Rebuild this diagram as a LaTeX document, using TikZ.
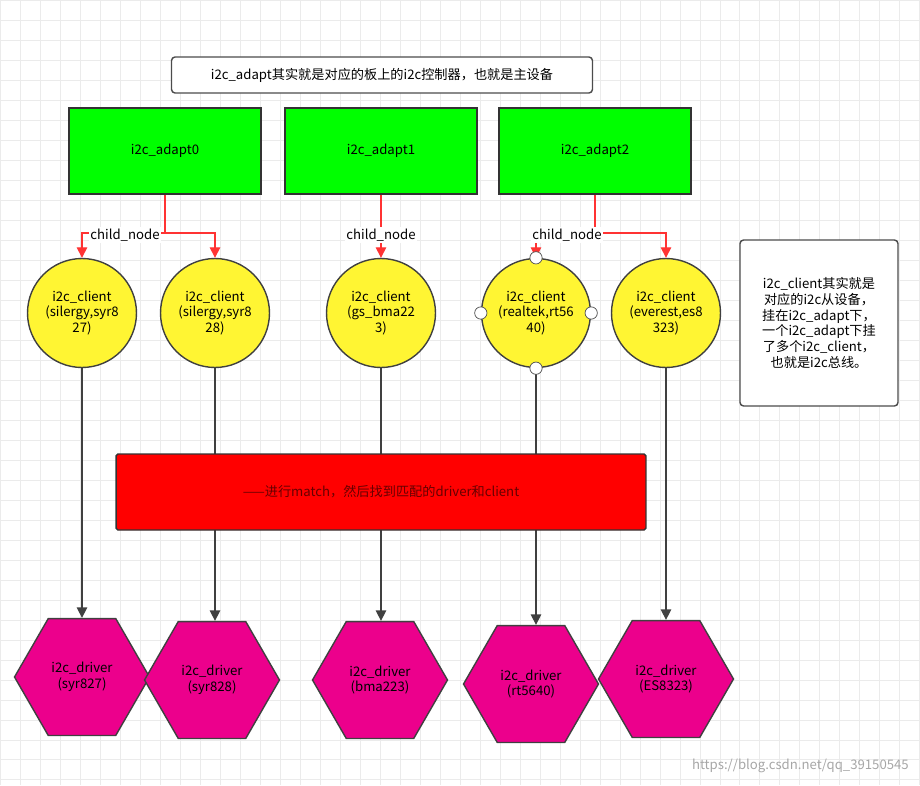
\documentclass[tikz,border=0pt]{standalone}
\usepackage{fontspec}
\setmainfont{Noto Sans CJK SC}
\usetikzlibrary{shapes.geometric,arrows.meta}
\begin{document}
\begin{tikzpicture}[x=0.02cm,y=-0.02cm,font=\fontsize{7.5}{9}\selectfont]
\tikzstyle{adapt}=[draw=black!80,thick,fill=green,minimum width=3.84cm,minimum height=1.72cm]
\tikzstyle{client}=[circle,draw=black!75,thick,fill=yellow!80!white,minimum size=2.18cm,inner sep=0pt,align=center]
\tikzstyle{driver}=[regular polygon,regular polygon sides=6,draw=black!75,thick,fill=magenta,minimum size=2.7cm,inner sep=0pt,align=center]
\tikzstyle{note}=[draw=black!70,thick,rounded corners=2pt,fill=white,align=center]
\tikzstyle{child}=[draw=red!80,thick,-{Triangle[length=6pt,width=6pt]}]
\tikzstyle{link}=[draw=black!75,thick,-{Triangle[length=6pt,width=6pt]}]
\tikzstyle{handle}=[circle,draw=black!70,fill=white,minimum size=7pt,inner sep=0pt]
\useasboundingbox (0,0) rectangle (920,785);
\draw[black!8] (0,0) grid[step=0.4cm] (920,785);
\node[note,minimum width=8.42cm,minimum height=0.72cm] (top) at (382,75) {i2c\_adapt其实就是对应的板上的i2c控制器，也就是主设备};
\foreach \name/\x in {0/165,1/381,2/595}
	\node[adapt] (a\name) at (\x,151) {i2c\_adapt\name};
\foreach \name/\x/\txt in {
	c1/82/{i2c\_client\\(silergy,syr8\\27)},
	c2/215/{i2c\_client\\(silergy,syr8\\28)},
	c3/381/{i2c\_client\\(gs\_bma22\\3)},
	c4/536/{i2c\_client\\(realtek,rt56\\40)},
	c5/666/{i2c\_client\\(everest,es8\\323)}}
	\node[client] (\name) at (\x,313) {\txt};
\foreach \name/\x/\y/\txt in {
	d1/82/677/{i2c\_driver\\(syr827)},
	d2/212/680/{i2c\_driver\\(syr828)},
	d3/380/680/{i2c\_driver\\(bma223)},
	d4/531/684/{i2c\_driver\\(rt5640)},
	d5/666/679/{i2c\_driver\\(ES8323)}}
	\node[driver] (\name) at (\x,\y) {\txt};
\foreach \i in {1,...,5}
	\draw[link] (c\i) -- (c\i |- d\i.corner 2);
\node[draw=black!80,thick,fill=red,minimum width=10.6cm,minimum height=1.52cm,rounded corners=1pt] (match) at (381,492) {\textcolor{black!60!red}{——进行match，然后找到匹配的driver和client}};
\coordinate (j0) at (165,233);
\coordinate (j2) at (595,233);
\draw[child] (a0.south) -- (j0) -| (c1.north);
\draw[child] (j0) -| (c2.north);
\draw[child] (a1.south) -- (c3.north);
\draw[child] (a2.south) -- (j2) -| (c4.north);
\draw[child] (j2) -| (c5.north);
\node[fill=white,inner sep=1pt] at (125,235) {child\_node};
\node[fill=white,inner sep=1pt] at (381,235) {child\_node};
\node[fill=white,inner sep=1pt] at (567,235) {child\_node};
\foreach \a in {north,south,east,west}
	\node[handle] at (c4.\a) {};
\node[note,minimum width=3.16cm,minimum height=3.32cm] (side) at (819,323) {i2c\_client其实就是\\对应的i2c从设备，\\挂在i2c\_adapt下，\\一个i2c\_adapt下挂\\了多个i2c\_client，\\也就是i2c总线。};
\node[text=black!35,anchor=east] (mark) at (915,766) {https://blog.csdn.net/qq\_39150545};
\end{tikzpicture}
\end{document}
